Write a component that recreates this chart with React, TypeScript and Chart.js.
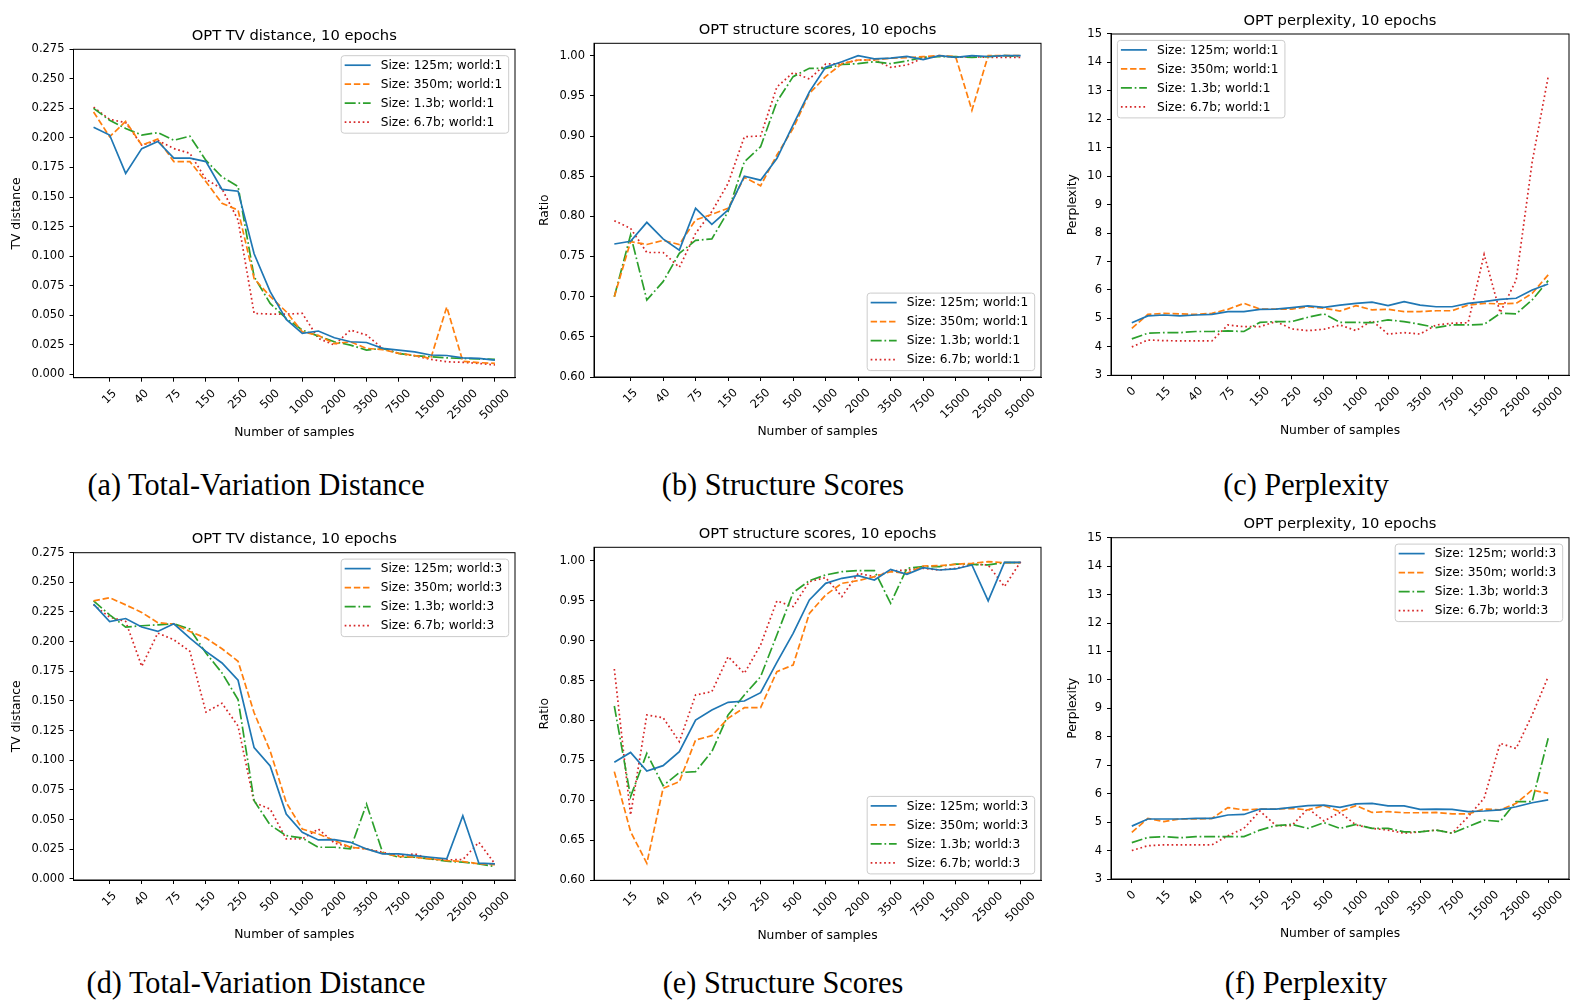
import { useEffect, useRef } from "react";
import Chart from "chart.js/auto";

const FONT = "'DejaVu Sans', sans-serif";

// labels of the even x positions (the odd ones sit between them, unlabelled)
const xTickLabels = ["0", "15", "40", "75", "150", "250", "500", "1000", "2000", "3500", "7500", "15000", "25000", "50000"];

const modelSizes = ["125m", "350m", "1.3b", "6.7b"];
const lineColors = ["#1f77b4", "#ff7f0e", "#2ca02c", "#d62728"];
const lineDashes = [[], [6.4, 2.8], [11, 2.8, 1.7, 2.8], [1.7, 2.8]];

const tvTicks = [0, 0.025, 0.05, 0.075, 0.1, 0.125, 0.15, 0.175, 0.2, 0.225, 0.25, 0.275];
const ratioTicks = [0.6, 0.65, 0.7, 0.75, 0.8, 0.85, 0.9, 0.95, 1.0];
const pplTicks = [3, 4, 5, 6, 7, 8, 9, 10, 11, 12, 13, 14, 15];

// TV distance, world 1 (first point is half a step before "15")
const tv1_125m = [0.209, 0.2025, 0.17, 0.191, 0.197, 0.183, 0.183, 0.18, 0.1565, 0.155, 0.102, 0.07, 0.0465, 0.0347, 0.0367, 0.031, 0.0276, 0.027, 0.022, 0.0206, 0.019, 0.0164, 0.016, 0.014, 0.0135, 0.012];
const tv1_350m = [0.222, 0.201, 0.214, 0.194, 0.199, 0.18, 0.18, 0.163, 0.1447, 0.139, 0.081, 0.066, 0.053, 0.036, 0.033, 0.026, 0.0276, 0.022, 0.021, 0.0178, 0.016, 0.0135, 0.057, 0.011, 0.01, 0.0093];
const tv1_1_3b = [0.225, 0.215, 0.208, 0.2025, 0.2045, 0.198, 0.2015, 0.181, 0.167, 0.159, 0.0826, 0.06, 0.0474, 0.0375, 0.0324, 0.0276, 0.0248, 0.0206, 0.022, 0.0178, 0.0158, 0.015, 0.014, 0.0135, 0.013, 0.0127];
const tv1_6_7b = [0.226, 0.2157, 0.213, 0.194, 0.198, 0.191, 0.187, 0.165, 0.157, 0.1306, 0.0516, 0.051, 0.051, 0.0516, 0.0305, 0.0248, 0.0375, 0.0333, 0.022, 0.0178, 0.0158, 0.0127, 0.0107, 0.0102, 0.0093, 0.008];

// structure scores, world 1
const ss1_125m = [0.7656, 0.769, 0.7925, 0.772, 0.758, 0.81, 0.79, 0.808, 0.85, 0.845, 0.872, 0.914, 0.955, 0.9855, 0.9925, 1.0, 0.996, 0.997, 0.999, 0.995, 1.0, 0.998, 1.0, 0.999, 1.0, 1.0];
const ss1_350m = [0.7, 0.7685, 0.765, 0.77, 0.765, 0.7955, 0.8025, 0.81, 0.8485, 0.838, 0.8763, 0.9095, 0.953, 0.9739, 0.99, 0.9946, 0.9946, 0.997, 0.9975, 0.9988, 1.0, 0.9988, 0.932, 1.0, 1.0, 1.0];
const ss1_1_3b = [0.7, 0.7768, 0.6958, 0.7187, 0.754, 0.77, 0.772, 0.806, 0.868, 0.8867, 0.9427, 0.9739, 0.9842, 0.9842, 0.989, 0.99, 0.9925, 0.99, 0.9934, 0.998, 0.9988, 0.9988, 0.998, 0.9988, 1.0, 0.9988];
const ss1_6_7b = [0.7946, 0.785, 0.755, 0.755, 0.7365, 0.7788, 0.806, 0.841, 0.899, 0.9, 0.961, 0.979, 0.971, 0.9896, 0.99, 0.9946, 0.9946, 0.9855, 0.9884, 0.997, 1.0, 0.998, 0.9988, 0.998, 0.998, 0.998];

// perplexity, world 1 (starts at "0")
const ppl1_125m = [4.85, 5.09, 5.12, 5.09, 5.12, 5.14, 5.24, 5.24, 5.32, 5.33, 5.38, 5.44, 5.39, 5.47, 5.53, 5.57, 5.45, 5.59, 5.47, 5.41, 5.41, 5.53, 5.59, 5.67, 5.71, 6.0, 6.21];
const ppl1_350m = [4.65, 5.14, 5.18, 5.16, 5.14, 5.18, 5.32, 5.53, 5.33, 5.33, 5.33, 5.41, 5.36, 5.26, 5.45, 5.3, 5.32, 5.24, 5.24, 5.27, 5.27, 5.47, 5.53, 5.51, 5.53, 5.88, 6.53];
const ppl1_1_3b = [4.28, 4.48, 4.5, 4.5, 4.54, 4.54, 4.56, 4.54, 4.86, 4.89, 4.89, 5.04, 5.16, 4.86, 4.86, 4.85, 4.95, 4.89, 4.79, 4.68, 4.77, 4.77, 4.79, 5.18, 5.16, 5.65, 6.33];
const ppl1_6_7b = [4.0, 4.24, 4.22, 4.21, 4.21, 4.21, 4.77, 4.71, 4.71, 4.89, 4.63, 4.57, 4.62, 4.77, 4.57, 4.92, 4.45, 4.5, 4.45, 4.77, 4.83, 4.85, 7.25, 5.2, 6.35, 10.5, 13.5];

// TV distance, world 3
const tv3_125m = [0.2316, 0.217, 0.2195, 0.2123, 0.2086, 0.215, 0.203, 0.1918, 0.182, 0.1675, 0.1106, 0.0952, 0.0546, 0.0392, 0.0328, 0.033, 0.0308, 0.0252, 0.021, 0.021, 0.0196, 0.0182, 0.0168, 0.0532, 0.0132, 0.0126];
const tv3_350m = [0.2344, 0.237, 0.231, 0.2246, 0.216, 0.2148, 0.2086, 0.203, 0.194, 0.1834, 0.14, 0.1078, 0.0644, 0.042, 0.0378, 0.0322, 0.0266, 0.0252, 0.0216, 0.019, 0.0182, 0.0168, 0.0154, 0.0146, 0.0126, 0.012];
const tv3_1_3b = [0.2344, 0.2226, 0.2123, 0.2134, 0.2142, 0.215, 0.2106, 0.1904, 0.1736, 0.1512, 0.0658, 0.0454, 0.0364, 0.0344, 0.0266, 0.0266, 0.0252, 0.063, 0.0224, 0.0182, 0.0182, 0.0168, 0.0148, 0.014, 0.0126, 0.0104];
const tv3_6_7b = [0.231, 0.2207, 0.217, 0.1792, 0.2072, 0.2016, 0.1918, 0.1406, 0.148, 0.1288, 0.0644, 0.0588, 0.0336, 0.0336, 0.042, 0.0302, 0.0266, 0.0252, 0.0224, 0.0196, 0.021, 0.0168, 0.016, 0.0162, 0.0308, 0.0126];

// structure scores, world 3
const ss3_125m = [0.7477, 0.76, 0.7368, 0.7435, 0.761, 0.8006, 0.8131, 0.8227, 0.8244, 0.8348, 0.8728, 0.909, 0.9508, 0.9716, 0.9779, 0.9812, 0.9758, 0.9891, 0.9829, 0.9912, 0.9883, 0.9896, 0.9946, 0.9496, 0.9979, 0.9979];
const ss3_350m = [0.736, 0.6609, 0.6213, 0.7151, 0.7234, 0.7756, 0.781, 0.8027, 0.816, 0.816, 0.8611, 0.8694, 0.934, 0.957, 0.9716, 0.975, 0.98, 0.9862, 0.9841, 0.9933, 0.9937, 0.9954, 0.9967, 0.9987, 0.9975, 0.9975];
const ss3_1_3b = [0.8181, 0.7047, 0.7589, 0.7185, 0.7347, 0.736, 0.761, 0.8069, 0.8319, 0.8548, 0.907, 0.9599, 0.975, 0.9821, 0.9862, 0.9875, 0.9875, 0.9466, 0.9904, 0.9925, 0.9925, 0.9958, 0.9954, 0.9946, 0.9975, 0.9975];
const ss3_6_7b = [0.8644, 0.6817, 0.8069, 0.8035, 0.7735, 0.8319, 0.836, 0.8799, 0.859, 0.8945, 0.9496, 0.9425, 0.9737, 0.9787, 0.955, 0.9841, 0.98, 0.987, 0.9883, 0.9904, 0.9883, 0.9904, 0.9954, 0.9946, 0.9675, 0.9987];

// perplexity, world 3
const ppl3_125m = [4.86, 5.11, 5.11, 5.11, 5.13, 5.13, 5.25, 5.27, 5.46, 5.46, 5.52, 5.58, 5.6, 5.52, 5.64, 5.66, 5.57, 5.57, 5.45, 5.46, 5.45, 5.37, 5.39, 5.43, 5.54, 5.68, 5.78];
const ppl3_350m = [4.64, 5.13, 5.02, 5.11, 5.11, 5.13, 5.51, 5.43, 5.46, 5.46, 5.48, 5.43, 5.58, 5.37, 5.58, 5.34, 5.37, 5.33, 5.33, 5.34, 5.29, 5.29, 5.46, 5.43, 5.66, 6.13, 6.01];
const ppl3_1_3b = [4.28, 4.46, 4.49, 4.45, 4.49, 4.49, 4.49, 4.49, 4.72, 4.88, 4.92, 4.78, 4.98, 4.78, 4.92, 4.78, 4.78, 4.66, 4.66, 4.72, 4.61, 4.84, 5.07, 5.02, 5.72, 5.72, 7.95];
const ppl3_6_7b = [4.0, 4.17, 4.2, 4.2, 4.2, 4.2, 4.52, 4.78, 5.39, 4.88, 4.88, 5.48, 5.04, 5.34, 4.9, 4.78, 4.72, 4.61, 4.66, 4.72, 4.61, 5.19, 5.84, 7.77, 7.59, 8.77, 10.11];

type LegendLoc = "upper right" | "lower right" | "upper left";

interface PanelSpec {
  title: string;
  yTitle: string;
  world: number;
  series: number[][];
  xStart: number; // x position of the first point
  yMin: number;
  yMax: number;
  yTicks: number[];
  yDigits: number;
  legend: LegendLoc;
  box: [number, number, number, number]; // axes left, top, right, bottom on the page
  yTitleX: number;
  caption: string;
  captionX: number;
  captionY: number;
}

const panels: PanelSpec[] = [
  {
    title: "OPT TV distance, 10 epochs", yTitle: "TV distance", world: 1,
    series: [tv1_125m, tv1_350m, tv1_1_3b, tv1_6_7b], xStart: 1,
    yMin: -0.0028, yMax: 0.275, yTicks: tvTicks, yDigits: 3, legend: "upper right",
    box: [73.5, 49.3, 515, 377.7], yTitleX: 17,
    caption: "(a) Total-Variation Distance", captionX: 256, captionY: 484,
  },
  {
    title: "OPT structure scores, 10 epochs", yTitle: "Ratio", world: 1,
    series: [ss1_125m, ss1_350m, ss1_1_3b, ss1_6_7b], xStart: 1,
    yMin: 0.6, yMax: 1.0154, yTicks: ratioTicks, yDigits: 2, legend: "lower right",
    box: [594, 43.3, 1041, 377], yTitleX: 545,
    caption: "(b) Structure Scores", captionX: 783, captionY: 484,
  },
  {
    title: "OPT perplexity, 10 epochs", yTitle: "Perplexity", world: 1,
    series: [ppl1_125m, ppl1_350m, ppl1_1_3b, ppl1_6_7b], xStart: 0,
    yMin: 3, yMax: 15, yTicks: pplTicks, yDigits: 0, legend: "upper left",
    box: [1111, 34, 1569, 375.3], yTitleX: 1073,
    caption: "(c) Perplexity", captionX: 1306, captionY: 484,
  },
  {
    title: "OPT TV distance, 10 epochs", yTitle: "TV distance", world: 3,
    series: [tv3_125m, tv3_350m, tv3_1_3b, tv3_6_7b], xStart: 1,
    yMin: -0.001, yMax: 0.275, yTicks: tvTicks, yDigits: 3, legend: "upper right",
    box: [73.5, 552.7, 515, 880], yTitleX: 17,
    caption: "(d) Total-Variation Distance", captionX: 256, captionY: 983,
  },
  {
    title: "OPT structure scores, 10 epochs", yTitle: "Ratio", world: 3,
    series: [ss3_125m, ss3_350m, ss3_1_3b, ss3_6_7b], xStart: 1,
    yMin: 0.6, yMax: 1.0167, yTicks: ratioTicks, yDigits: 2, legend: "lower right",
    box: [594, 547.3, 1041, 880.3], yTitleX: 545,
    caption: "(e) Structure Scores", captionX: 783, captionY: 983,
  },
  {
    title: "OPT perplexity, 10 epochs", yTitle: "Perplexity", world: 3,
    series: [ppl3_125m, ppl3_350m, ppl3_1_3b, ppl3_6_7b], xStart: 0,
    yMin: 3, yMax: 15, yTicks: pplTicks, yDigits: 0, legend: "upper right",
    box: [1111, 537.7, 1569, 879], yTitleX: 1073,
    caption: "(f) Perplexity", captionX: 1306, captionY: 983,
  },
];

function frameOf(spec: PanelSpec) {
  const [bl, bt, br, bb] = spec.box;
  const left = Math.round(spec.yTitleX - 12);
  const top = Math.round(bt - 32);
  const right = Math.round(br + 8);
  const bottom = Math.round(bb + 66);
  return {
    left, top, width: right - left, height: bottom - top,
    LW: bl - left, TH: bt - top, R: right - br, BH: bottom - bb,
  };
}

function Panel({ spec }: { spec: PanelSpec }) {
  const canvasRef = useRef<HTMLCanvasElement>(null);
  const f = frameOf(spec);

  useEffect(() => {
    if (!canvasRef.current) return;
    const n = spec.series[0].length;
    const xLast = spec.xStart + n - 1;
    const pad = 0.05 * (xLast - spec.xStart);
    const tickValues = xTickLabels.map((_, k) => k * 2).filter((v) => v >= spec.xStart);

    // rotated x labels, centred on their ticks like matplotlib's rotation=45
    const xLabels = {
      id: "xLabels",
      afterDraw(chart: any) {
        const scale = chart.scales.x;
        const ctx = chart.ctx;
        ctx.save();
        ctx.font = `11.5px ${FONT}`;
        ctx.fillStyle = "#000";
        ctx.textAlign = "center";
        ctx.textBaseline = "middle";
        scale.ticks.forEach((t: any) => {
          const label = xTickLabels[t.value / 2];
          const w = ctx.measureText(label).width;
          const x = scale.getPixelForValue(t.value);
          const y = scale.top + 11 + (w + 8.5) / (2 * Math.SQRT2);
          ctx.save();
          ctx.translate(x, y);
          ctx.rotate(-Math.PI / 4);
          ctx.fillText(label, 0, 0);
          ctx.restore();
        });
        ctx.restore();
      },
    };

    const boxLegend = {
      id: "boxLegend",
      afterDatasetsDraw(chart: any) {
        const { ctx, chartArea: a } = chart;
        ctx.save();
        ctx.font = `12.2px ${FONT}`;
        const labels: string[] = chart.data.datasets.map((d: any) => d.label);
        const textW = Math.max(...labels.map((l) => ctx.measureText(l).width));
        const w = 39.5 + textW + 6.5;
        const h = 77.5;
        let x = a.right - 6.3 - w;
        let y = a.top + 6.4;
        if (spec.legend === "lower right") y = a.bottom - 6.4 - h;
        if (spec.legend === "upper left") x = a.left + 6.4;
        ctx.beginPath();
        ctx.roundRect(x, y, w, h, 3);
        ctx.fillStyle = "rgba(255,255,255,0.8)";
        ctx.fill();
        ctx.strokeStyle = "#cccccc";
        ctx.lineWidth = 1;
        ctx.stroke();
        labels.forEach((label, k) => {
          const cy = y + 9.5 + k * 19;
          ctx.beginPath();
          ctx.setLineDash(lineDashes[k]);
          ctx.strokeStyle = lineColors[k];
          ctx.lineWidth = 1.7;
          ctx.moveTo(x + 3.5, cy);
          ctx.lineTo(x + 29.5, cy);
          ctx.stroke();
          ctx.setLineDash([]);
          ctx.fillStyle = "#000";
          ctx.textAlign = "left";
          ctx.textBaseline = "middle";
          ctx.fillText(label, x + 39.5, cy + 0.5);
        });
        ctx.restore();
      },
    };

    const frame = {
      id: "frame",
      afterDraw(chart: any) {
        const { ctx, chartArea: a } = chart;
        ctx.save();
        ctx.strokeStyle = "#000";
        ctx.lineWidth = 1;
        ctx.strokeRect(a.left, a.top, a.right - a.left, a.bottom - a.top);
        ctx.restore();
      },
    };

    const axisGrid = { display: true, drawOnChartArea: false, drawTicks: true, tickLength: 4, color: "#000", tickColor: "#000" };

    const chart = new Chart(canvasRef.current, {
      type: "line",
      data: {
        datasets: spec.series.map((vals, k) => ({
          label: `Size: ${modelSizes[k]}; world:${spec.world}`,
          data: vals.map((v, j) => ({ x: spec.xStart + j, y: v })),
          borderColor: lineColors[k],
          backgroundColor: lineColors[k],
          borderWidth: 1.7,
          borderDash: lineDashes[k],
          pointRadius: 0,
          tension: 0,
          fill: false,
        })),
      },
      options: {
        animation: false,
        responsive: false,
        events: [],
        layout: { padding: { left: 0, top: 0, right: f.R, bottom: 0 } },
        plugins: {
          legend: { display: false },
          tooltip: { enabled: false },
          title: {
            display: true,
            text: spec.title,
            fullSize: false,
            color: "#000",
            font: { family: FONT, size: 14.7, weight: "normal", lineHeight: 1.2 },
            padding: { top: f.TH - 13.3 - 8.82, bottom: 13.3 - 8.82 },
          },
        },
        scales: {
          x: {
            type: "linear",
            min: spec.xStart - pad,
            max: xLast + pad,
            afterBuildTicks: (s: any) => {
              s.ticks = tickValues.map((v) => ({ value: v }));
            },
            afterFit: (s: any) => {
              s.height = f.BH;
            },
            ticks: { display: false },
            grid: axisGrid,
            border: { display: true, color: "#000", width: 1 },
            title: {
              display: true,
              text: "Number of samples",
              color: "#000",
              font: { family: FONT, size: 12.3, lineHeight: 1.2 },
              padding: { top: 0, bottom: f.BH - 55.3 - 7.38 },
            },
          },
          y: {
            type: "linear",
            min: spec.yMin,
            max: spec.yMax,
            afterBuildTicks: (s: any) => {
              s.ticks = spec.yTicks.map((v) => ({ value: v }));
            },
            afterFit: (s: any) => {
              s.width = f.LW;
            },
            ticks: {
              autoSkip: false,
              padding: 5,
              color: "#000",
              font: { family: FONT, size: 11.5 },
              callback: (v: any) => Number(v).toFixed(spec.yDigits),
            },
            grid: axisGrid,
            border: { display: true, color: "#000", width: 1 },
            title: {
              display: true,
              text: spec.yTitle,
              color: "#000",
              font: { family: FONT, size: 12.3, lineHeight: 1.2 },
              padding: { top: spec.yTitleX - f.left - 7.38, bottom: 0 },
            },
          },
        },
      } as any,
      plugins: [boxLegend, xLabels, frame],
    });

    return () => {
      chart.destroy();
    };
  }, [spec]);

  return (
    <canvas
      ref={canvasRef}
      width={f.width}
      height={f.height}
      style={{ position: "absolute", left: f.left, top: f.top }}
    />
  );
}

export default function App() {
  return (
    <div style={{ position: "absolute", left: 0, top: 0, width: 1581, height: 1005, background: "#fff", overflow: "hidden" }}>
      {panels.map((p, i) => (
        <Panel key={i} spec={p} />
      ))}
      {panels.map((p, i) => (
        <div
          key={"c" + i}
          style={{
            position: "absolute",
            left: p.captionX - 300,
            top: p.captionY - 18,
            width: 600,
            height: 36,
            lineHeight: "36px",
            textAlign: "center",
            fontFamily: "'Liberation Serif', 'Times New Roman', serif",
            fontSize: 30.3,
            color: "#000",
            transform: "scaleY(1.05)",
          }}
        >
          {p.caption}
        </div>
      ))}
    </div>
  );
}
